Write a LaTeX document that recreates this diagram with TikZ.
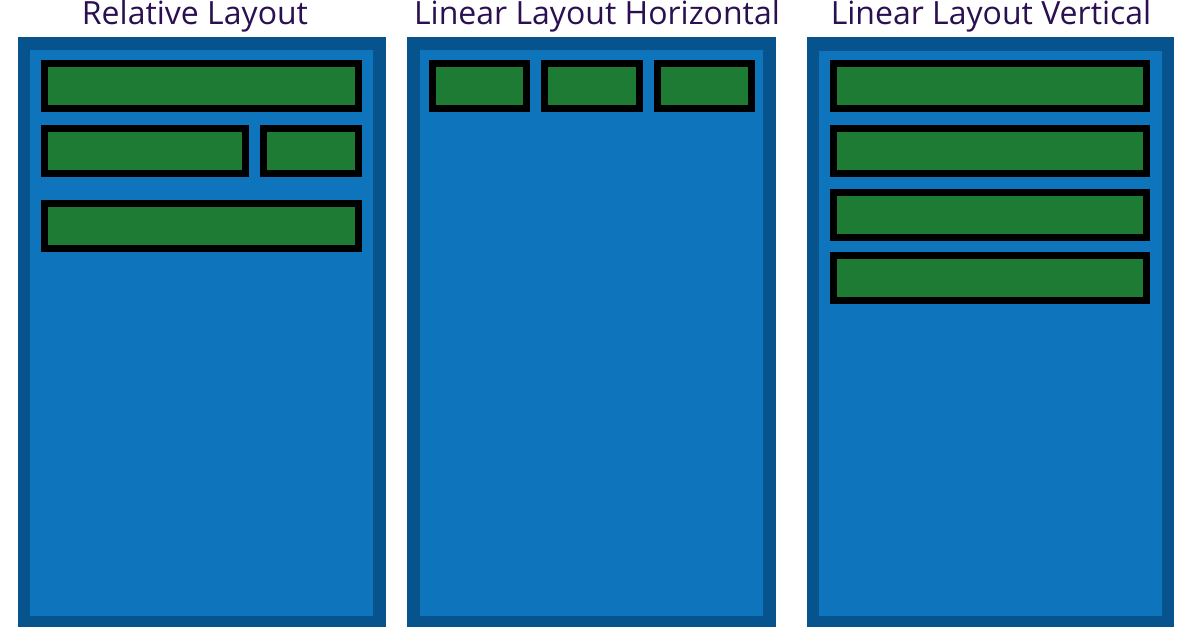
\documentclass[tikz,border=0pt]{standalone}
\usepackage{fontspec}
\setmainfont{Open Sans}
\definecolor{outerblue}{HTML}{06538E}
\definecolor{innerblue}{HTML}{0E74BB}
\definecolor{boxgreen}{HTML}{1E7B34}
\definecolor{titlepurple}{HTML}{2A1050}
\tikzset{
  outerpanel/.style={fill=outerblue, draw=none},
  innerpanel/.style={fill=innerblue, draw=none},
  widget/.style={fill=boxgreen, draw=black, line width=3.3pt},
  paneltitle/.style={text=titlepurple, font=\fontsize{16}{19}\selectfont, anchor=base, inner sep=0pt},
}
\begin{document}
\begin{tikzpicture}[x=0.5pt,y=-0.5pt]
\useasboundingbox (0,0) rectangle (1200,630);
% Panel 1: Relative Layout
\fill[outerpanel] (18,37) rectangle (386,627);
\fill[innerpanel] (30,50) rectangle (373,616);
\draw[widget] (44.3,63.3) rectangle (358.7,108.7);
\draw[widget] (44.3,128.3) rectangle (245.7,173.7);
\draw[widget] (263.3,128.3) rectangle (358.7,173.7);
\draw[widget] (44.3,203.3) rectangle (358.7,248.7);
\node[paneltitle] (t1) at (195,25) {Relative Layout};
% Panel 2: Linear Layout Horizontal
\fill[outerpanel] (407,37) rectangle (776,627);
\fill[innerpanel] (420,50) rectangle (763,616);
\draw[widget] (432.3,63.3) rectangle (526.7,108.7);
\draw[widget] (544.3,63.3) rectangle (639.7,108.7);
\draw[widget] (657.3,63.3) rectangle (751.7,108.7);
\node[paneltitle] (t2) at (597,25) {Linear Layout Horizontal};
% Panel 3: Linear Layout Vertical
\fill[outerpanel] (807,37) rectangle (1174,627);
\fill[innerpanel] (819,51) rectangle (1162,616);
\draw[widget] (833.3,63.3) rectangle (1146.7,108.7);
\draw[widget] (833.3,128.3) rectangle (1146.7,173.7);
\draw[widget] (833.3,192.3) rectangle (1146.7,237.7);
\draw[widget] (833.3,255.3) rectangle (1146.7,300.7);
\node[paneltitle] (t3) at (991,25) {Linear Layout Vertical};
\end{tikzpicture}
\end{document}
